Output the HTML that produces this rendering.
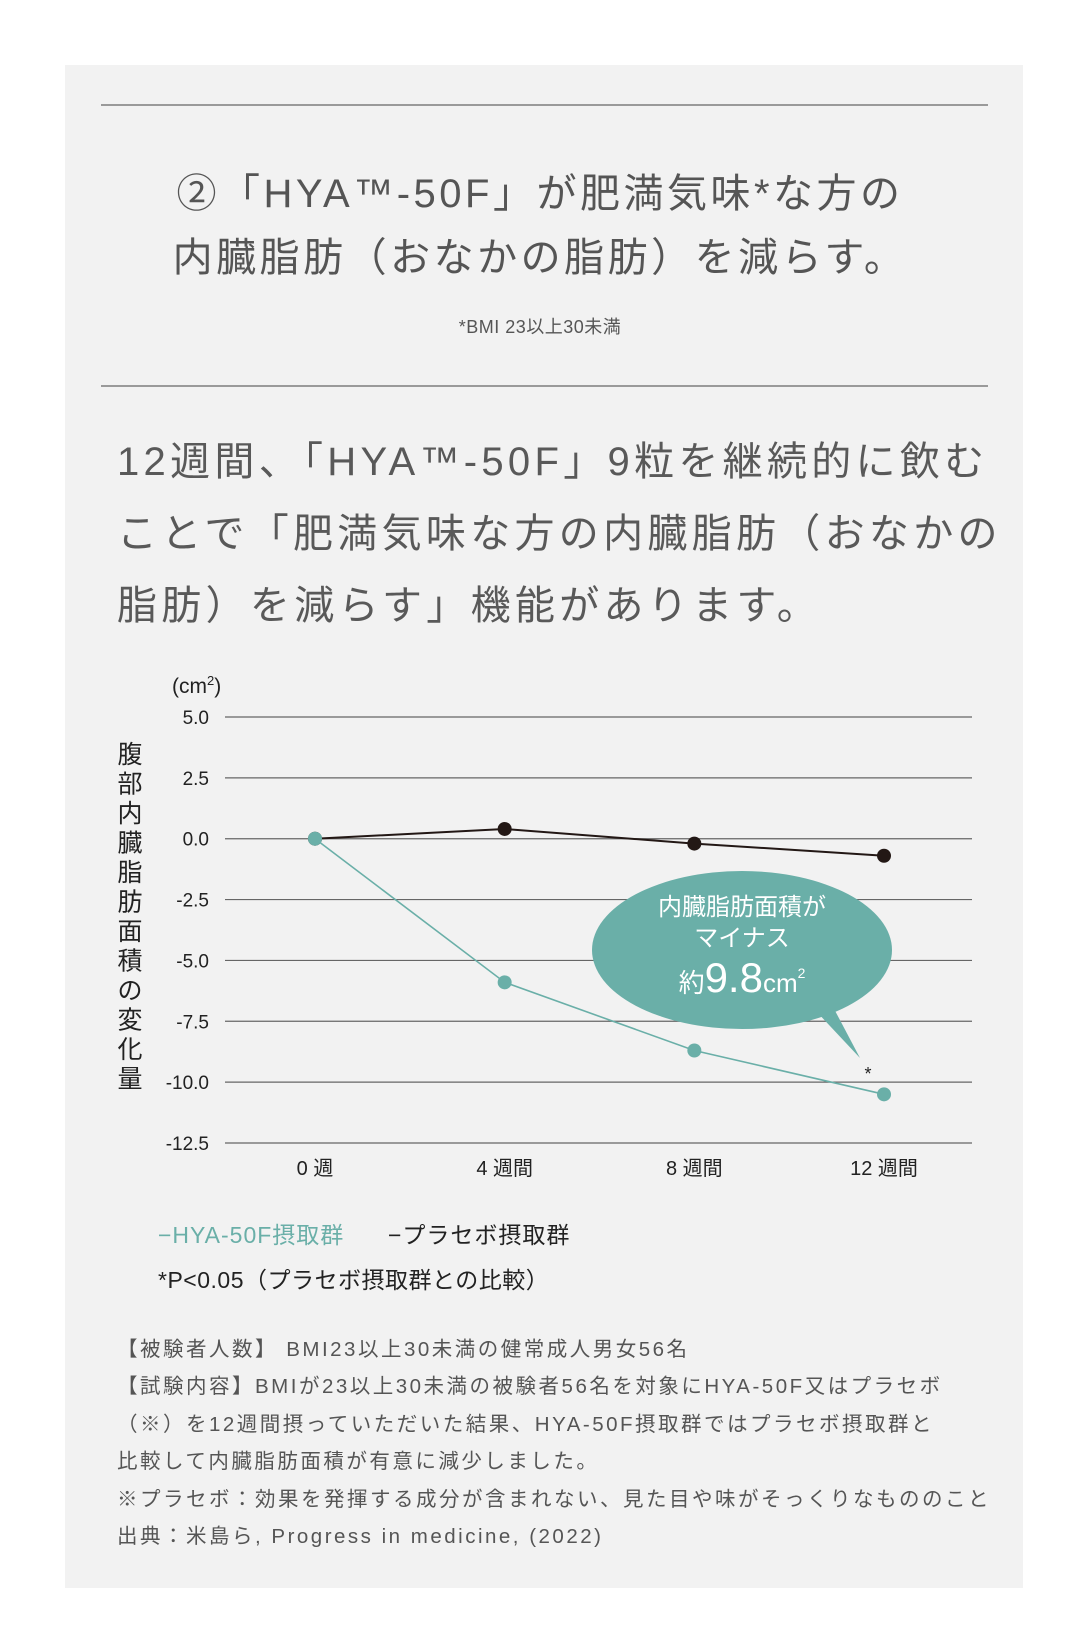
<!DOCTYPE html>
<html><head><meta charset="utf-8"><style>
body{margin:0;width:1080px;height:1640px;background:#fff;position:relative;font-family:"Liberation Sans","Noto Sans CJK JP",sans-serif;overflow:hidden}
.panel{position:absolute;left:65px;top:65px;width:958px;height:1523px;background:#f2f2f2}
.rule{position:absolute;left:101px;width:887px;height:2px;background:#9a9a9a}
.t{position:absolute;white-space:nowrap;color:#555}
</style></head><body>
<div class="panel"></div>
<div class="rule" style="top:104px"></div>
<div class="t" style="left:0;width:1080px;text-align:center;top:162px;font-size:40px;line-height:64px;letter-spacing:3.5px">②「HYA™-50F」が肥満気味*な方の<br>内臓脂肪（おなかの脂肪）を減らす。</div>
<div class="t" style="left:0;width:1080px;text-align:center;top:313px;font-size:18px;letter-spacing:0.5px">*BMI 23以上30未満</div>
<div class="rule" style="top:385px"></div>
<div class="t" style="left:117px;top:426px;font-size:40px;line-height:72px;color:#595959;letter-spacing:4.3px">12週間、「HYA™-50F」9粒を継続的に飲む<br>ことで「肥満気味な方の内臓脂肪（おなかの<br>脂肪）を減らす」機能があります。</div>

<svg id="chart" style="position:absolute;left:0;top:0" width="1080" height="1640"></svg>

<div class="t" style="left:158px;top:1216px;font-size:23px;color:#6aafa8;letter-spacing:1px">−HYA-50F摂取群</div>
<div class="t" style="left:388px;top:1216px;font-size:23px;color:#222;letter-spacing:1px">−プラセボ摂取群</div>
<div class="t" style="left:158px;top:1261px;font-size:23px;color:#222;letter-spacing:0.5px">*P&lt;0.05（プラセボ摂取群との比較）</div>
<div class="t" style="left:117px;top:1331px;font-size:20.5px;line-height:37.4px;color:#555;letter-spacing:2.5px">【被験者人数】 BMI23以上30未満の健常成人男女56名<br>【試験内容】BMIが23以上30未満の被験者56名を対象にHYA-50F又はプラセボ<br>（※）を12週間摂っていただいた結果、HYA-50F摂取群ではプラセボ摂取群と<br>比較して内臓脂肪面積が有意に減少しました。<br>※プラセボ：効果を発揮する成分が含まれない、見た目や味がそっくりなもののこと<br>出典：米島ら, Progress in medicine, (2022)</div>

<script>
const categories=["0 週","4 週間","8 週間","12 週間"];
const hyaValues=[0,-5.9,-8.7,-10.5];
const placeboValues=[0,0.4,-0.2,-0.7];
const yTicks=[5.0,2.5,0.0,-2.5,-5.0,-7.5,-10.0,-12.5];
const yTickLabels=["5.0","2.5","0.0","-2.5","-5.0","-7.5","-10.0","-12.5"];
const NS="http://www.w3.org/2000/svg";
const svg=document.getElementById('chart');
const y0=717,y1=1143,vmax=5,vmin=-12.5;
const yS=v=>y0+(vmax-v)/(vmax-vmin)*(y1-y0);
const xS=i=>315+i*(884-315)/(categories.length-1);
function mk(tag,attrs){const e=document.createElementNS(NS,tag);for(const k in attrs)e.setAttribute(k,attrs[k]);svg.appendChild(e);return e;}
yTicks.forEach((v,i)=>{
 const l=mk('line',{x1:225,x2:972,y1:yS(v),y2:yS(v),stroke:'#666','stroke-width':1.2});
 
 
 const t=mk('text',{x:209,y:yS(v)+7,'text-anchor':'end','font-size':19,fill:'#222'});
 t.textContent=yTickLabels[i];
 
 
});
categories.forEach((c,i)=>{
 const t=mk('text',{x:xS(i),y:1175,'text-anchor':'middle','font-size':20,fill:'#222'});
 t.textContent=c;
 
 
});
const u=mk('text',{x:172,y:693,'font-size':21,fill:'#222'});
u.innerHTML='(cm<tspan font-size="13" dy="-8">2</tspan><tspan dy="8">)</tspan>';


const yt="腹部内臓脂肪面積の変化量".split('');
yt.forEach((ch,i)=>{
 const t=mk('text',{x:130,y:763+i*29.5,'text-anchor':'middle','font-size':25,fill:'#222'});
 t.textContent=ch;
 
 
});
function series(vals,color,name,w,r){
 const p=mk('polyline',{points:vals.map((v,i)=>xS(i)+','+yS(v)).join(' '),fill:'none',stroke:color,'stroke-width':w});
 
 
 vals.forEach((v,i)=>{
  const c=mk('circle',{cx:xS(i),cy:yS(v),r:r,fill:color});
  
  
 });
}
series(placeboValues,'#231815','placebo',2,7);
series(hyaValues,'#6aafa8','hya',1.6,7);
const b=mk('path',{d:'M815,1010 L860,1058 L832,1005 Z',fill:'#6aafa8'});


const e=mk('ellipse',{cx:742,cy:950,rx:150,ry:79,fill:'#6aafa8'});


const lines=[["内臓脂肪面積が",915,24],["マイナス",946,24]];
lines.forEach(l=>{
 const t=mk('text',{x:742,y:l[1],'text-anchor':'middle','font-size':l[2],fill:'#fff'});
 t.textContent=l[0];
 
 
});
const big=mk('text',{x:742,y:992,'text-anchor':'middle','font-size':26,fill:'#fff'});
big.innerHTML='約<tspan font-size="42">9.8</tspan>cm<tspan font-size="14" dy="-14">2</tspan>';


const ast=mk('text',{x:868,y:1080,'text-anchor':'middle','font-size':18,fill:'#222'});
ast.textContent='*';


</script>
</body></html>
